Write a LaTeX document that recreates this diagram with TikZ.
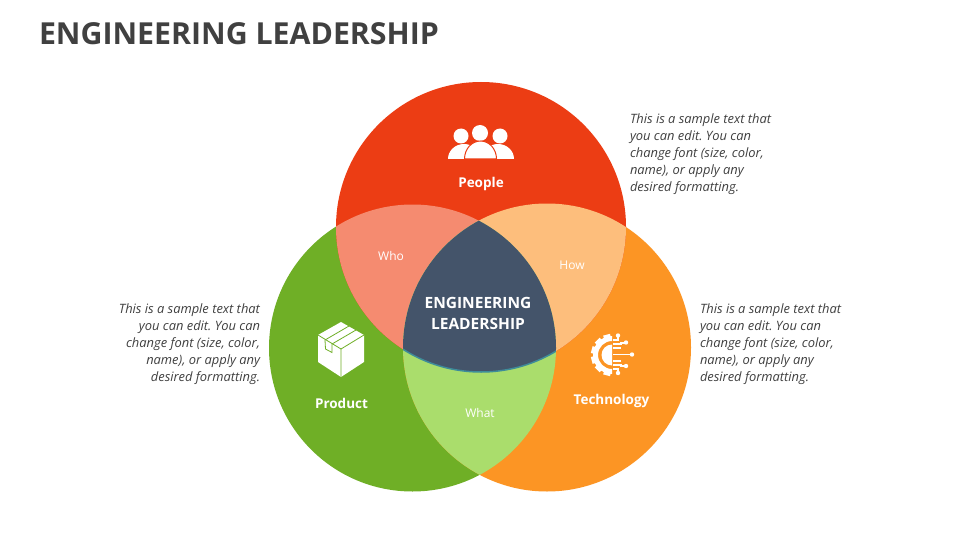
\documentclass[tikz,border=0pt]{standalone}
\usepackage{fontspec}
\setmainfont{Open Sans}
\usepackage{xcolor}
\usetikzlibrary{positioning}
\definecolor{peoplered}{HTML}{EC3D14}
\definecolor{productgreen}{HTML}{6FAF26}
\definecolor{techorange}{HTML}{FC9524}
\definecolor{whosalmon}{HTML}{F58B70}
\definecolor{howorange}{HTML}{FDBE7C}
\definecolor{whatgreen}{HTML}{AADD6C}
\definecolor{coreblue}{HTML}{44546A}
\definecolor{coreedge}{HTML}{3E8C9A}
\definecolor{titlegrey}{HTML}{404040}
\tikzset{
    every node/.style = {inner sep=0pt, outer sep=0pt},
    sample/.style = {font=\fontsize{12.9}{17}\selectfont\itshape\frenchspacing, text=titlegrey},
    circlelabel/.style = {font=\fontsize{13.5}{17}\selectfont\bfseries, text=white},
    zonelabel/.style = {font=\fontsize{12}{17}\selectfont, text=white}
}
\begin{document}
\begin{tikzpicture}[x=1pt, y=-1pt]
    \useasboundingbox (0,0) rectangle (960,540);
    \fill[white] (0,0) rectangle (960,540);

    % circles
    \fill[productgreen] (412.5,348) circle (143.5);
    \fill[techorange] (547,347.5) circle (144);
    \fill[peoplered] (481,227) circle (145);

    % overlaps
    \begin{scope}
        \clip (481,227) circle (145);
        \fill[whosalmon] (412.5,348) circle (143.5);
        \fill[howorange] (547,347.5) circle (144);
    \end{scope}
    \begin{scope}
        \clip (412.5,348) circle (143.5);
        \fill[whatgreen] (547,347.5) circle (144);
    \end{scope}
    \begin{scope}
        \clip (412.5,348) circle (143.5);
        \clip (547,347.5) circle (144);
        \fill[coreblue] (481,227) circle (145);
        \draw[coreedge, line width=1.5pt] (481,227) circle (145);
    \end{scope}

    % people icon
    \fill[white] (461,136) circle (7.5);
    \fill[white] (500,136) circle (7.5);
    \fill[white] (448,159) arc[start angle=180, end angle=0, x radius=16, y radius=-15] -- cycle;
    \fill[white] (482,159) arc[start angle=180, end angle=0, x radius=16, y radius=-15] -- cycle;
    \fill[white] (480,133) circle (8);
    \fill[white, draw=peoplered, line width=1pt] (464.5,159) arc[start angle=180, end angle=0, x radius=16, y radius=-18] -- cycle;

    % product icon
    \fill[white] (341,322) -- (364,335) -- (364,362) -- (341,377) -- (318,362) -- (318,335) -- cycle;
    \draw[productgreen, line width=.8pt] (318,335) -- (341,349) -- (364,335) (341,349) -- (341,377);
    \draw[productgreen, line width=.8pt] (349,326) -- (325,340) -- (325.5,349) -- (332,352.5) -- (332,344) -- (356,330);

    % technology icon
    \foreach \ang in {105,135,165,195,225,255}
        \fill[white, rotate around={\ang:(612,355)}] (628,351.5) rectangle (633,358.5);
    \fill[white] (612,336) arc[start angle=270, end angle=90, radius=19] -- (612,369) arc[start angle=90, end angle=270, radius=14] -- cycle;
    \fill[white] (612,344.5) arc[start angle=270, end angle=90, radius=10.5] -- cycle;
    \draw[white, line width=1.3pt] (613,340) -- (618,340) -- (618,336)
        (613,344) -- (621,344) -- (621,343) -- (626,343)
        (613,348) -- (621,348)
        (613,354.5) -- (632,354.5)
        (613,361) -- (621,361)
        (613,365) -- (621,365) -- (621,366) -- (626,366)
        (613,369) -- (618,369) -- (618,373);
    \foreach \dotx/\doty in {618/335.5,626/342.5,632/354.5,626/366,618/373}
        \fill[white] (\dotx,\doty) circle (2.2);

    % labels
    \node[anchor=west, font=\fontsize{30.3}{36}\selectfont\bfseries, text=titlegrey] (title) at (39,34) {ENGINEERING LEADERSHIP};
    \node[circlelabel] (people) at (481,183.5) {People};
    \node[circlelabel] (product) at (341.5,403) {Product};
    \node[circlelabel] (technology) at (611.5,401) {Technology};
    \node[zonelabel] (who) at (391,256) {Who};
    \node[zonelabel] (how) at (572,265) {How};
    \node[zonelabel] (what) at (480,413) {What};
    \node[align=center, font=\fontsize{15.5}{21}\selectfont\bfseries, text=white] (core) at (478,313.5) {ENGINEERING\\LEADERSHIP};

    \node[sample, anchor=north west, align=left] (peopletext) at (630,114) {This is a sample text that\\you can edit. You can\\change font (size, color,\\name), or apply any\\desired formatting.};
    \node[sample, anchor=north east, align=right] (producttext) at (260,303.5) {This is a sample text that\\you can edit. You can\\change font (size, color,\\name), or apply any\\desired formatting.};
    \node[sample, anchor=north west, align=left] (techtext) at (700,303.5) {This is a sample text that\\you can edit. You can\\change font (size, color,\\name), or apply any\\desired formatting.};
\end{tikzpicture}
\end{document}
